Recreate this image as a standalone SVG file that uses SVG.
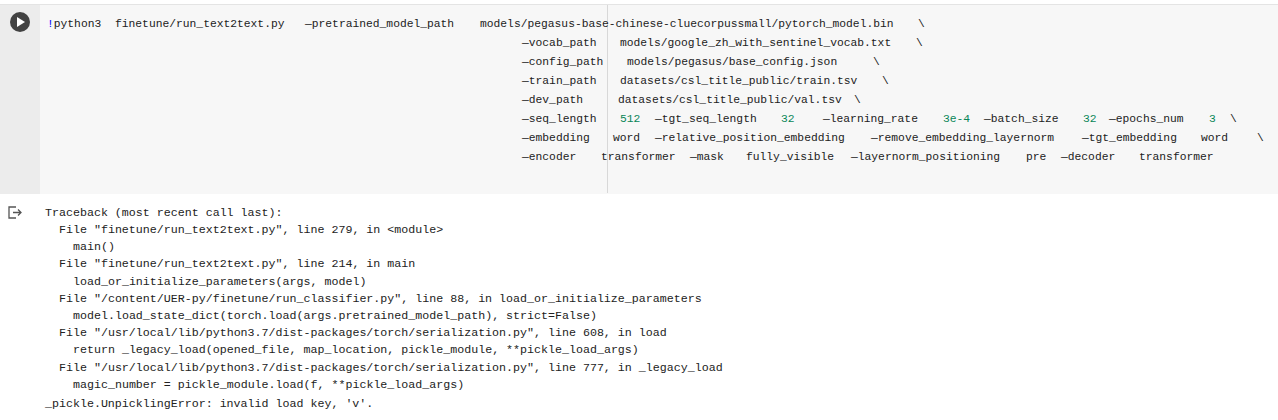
<svg xmlns="http://www.w3.org/2000/svg" width="1278" height="420" viewBox="0 0 1278 420">
<style>
text{font-family:"Liberation Mono","DejaVu Sans Mono",monospace;font-size:11.3px;fill:#222}
.o{font-size:11.65px}
.n{fill:#098658}
.b{fill:#0000ff}
</style>
<rect width="1278" height="420" fill="#fff"/>
<g id="cell">
<rect x="0" y="4" width="1278" height="190" fill="#f7f7f7"/>
<rect x="0" y="4" width="40" height="190" fill="#ececec"/>
<line x1="0" y1="4.5" x2="1278" y2="4.5" stroke="#e4e4e4"/>
<line x1="607.5" y1="5" x2="607.5" y2="193" stroke="#d8d8d8"/>
<circle cx="20" cy="22" r="10" fill="#424242"/>
<polygon points="17,17 17,27 25,22" fill="#fff"/>
</g>
<g id="code">
<text x="47" y="27"><tspan class="b">!</tspan>python3</text>
<text x="115" y="27">finetune/run_text2text.py</text>
<text x="305" y="27">—pretrained_model_path</text>
<text x="480" y="27">models/pegasus-base-chinese-cluecorpussmall/pytorch_model.bin</text>
<text x="918" y="27">\</text>
<text x="522" y="46">—vocab_path</text><text x="620" y="46">models/google_zh_with_sentinel_vocab.txt</text><text x="916" y="46">\</text>
<text x="522" y="65">—config_path</text><text x="627" y="65">models/pegasus/base_config.json</text><text x="873" y="65">\</text>
<text x="522" y="84">—train_path</text><text x="620" y="84">datasets/csl_title_public/train.tsv</text><text x="882" y="84">\</text>
<text x="522" y="103">—dev_path</text><text x="618" y="103">datasets/csl_title_public/val.tsv</text><text x="854" y="103">\</text>
<text x="522" y="122">—seq_length</text><text class="n" x="620" y="122">512</text><text x="655" y="122">—tgt_seq_length</text><text class="n" x="781" y="122">32</text><text x="823" y="122">—learning_rate</text><text class="n" x="943" y="122">3e-4</text><text x="984" y="122">—batch_size</text><text class="n" x="1083" y="122">32</text><text x="1109" y="122">—epochs_num</text><text class="n" x="1209" y="122">3</text><text x="1230" y="122">\</text>
<text x="522" y="141">—embedding</text><text x="613" y="141">word</text><text x="655" y="141">—relative_position_embedding</text><text x="871" y="141">—remove_embedding_layernorm</text><text x="1082" y="141">—tgt_embedding</text><text x="1201" y="141">word</text><text x="1257" y="141">\</text>
<text x="522" y="160">—encoder</text><text x="601" y="160">transformer</text><text x="690" y="160">—mask</text><text x="746" y="160">fully_visible</text><text x="851" y="160">—layernorm_positioning</text><text x="1026" y="160">pre</text><text x="1061" y="160">—decoder</text><text x="1139" y="160">transformer</text>
</g>
<g id="output">
<g fill="none" stroke="#555" stroke-width="1.3">
<path d="M16 207 H9 V218 H16"/>
<path d="M13 212.5 H21 M18 209.5 L21 212.5 L18 215.5"/>
</g>
<text class="o" x="45" y="216">Traceback (most recent call last):</text>
<text class="o" x="59" y="233">File "finetune/run_text2text.py", line 279, in &lt;module&gt;</text>
<text class="o" x="73" y="250">main()</text>
<text class="o" x="59" y="267">File "finetune/run_text2text.py", line 214, in main</text>
<text class="o" x="73" y="285">load_or_initialize_parameters(args, model)</text>
<text class="o" x="59" y="302">File "/content/UER-py/finetune/run_classifier.py", line 88, in load_or_initialize_parameters</text>
<text class="o" x="73" y="319">model.load_state_dict(torch.load(args.pretrained_model_path), strict=False)</text>
<text class="o" x="59" y="336">File "/usr/local/lib/python3.7/dist-packages/torch/serialization.py", line 608, in load</text>
<text class="o" x="73" y="353">return _legacy_load(opened_file, map_location, pickle_module, **pickle_load_args)</text>
<text class="o" x="59" y="371">File "/usr/local/lib/python3.7/dist-packages/torch/serialization.py", line 777, in _legacy_load</text>
<text class="o" x="73" y="388">magic_number = pickle_module.load(f, **pickle_load_args)</text>
<text class="o" x="45" y="407">_pickle.UnpicklingError: invalid load key, 'v'.</text>
</g>
</svg>
